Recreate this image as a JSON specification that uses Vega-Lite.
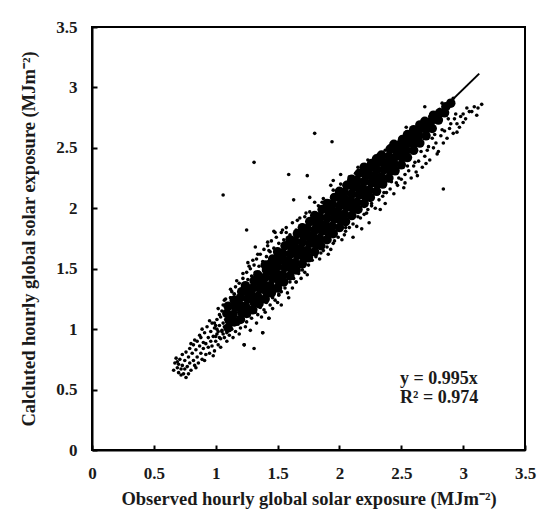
{
  "$schema": "https://vega.github.io/schema/vega-lite/v6.json",
  "width": 433,
  "height": 423,
  "autosize": {"type": "none"},
  "padding": {"left": 92, "top": 27, "right": 25, "bottom": 81},
  "background": "white",
  "config": {
    "font": "Liberation Serif",
    "view": {"stroke": "black", "strokeWidth": 2},
    "axis": {
      "grid": false,
      "domainColor": "black",
      "domainWidth": 2,
      "tickColor": "black",
      "tickWidth": 2,
      "tickSize": -5,
      "labelFont": "Liberation Serif",
      "labelFontSize": 17,
      "labelFontWeight": "bold",
      "labelColor": "#1a1a1a",
      "labelFlush": false,
      "titleFont": "Liberation Serif",
      "titleFontSize": 18.5,
      "titleFontWeight": "bold",
      "titleColor": "#1a1a1a"
    }
  },
  "datasets": {
    "core": [
      {"obs":1.10,"calc":1.01},{"obs":1.11,"calc":1.07},{"obs":1.09,"calc":1.13},{"obs":1.10,"calc":1.19},
      {"obs":1.15,"calc":1.06},{"obs":1.14,"calc":1.12},{"obs":1.16,"calc":1.18},{"obs":1.15,"calc":1.24},
      {"obs":1.20,"calc":1.08},{"obs":1.21,"calc":1.14},{"obs":1.19,"calc":1.20},{"obs":1.20,"calc":1.26},{"obs":1.21,"calc":1.31},
      {"obs":1.25,"calc":1.13},{"obs":1.24,"calc":1.19},{"obs":1.26,"calc":1.25},{"obs":1.25,"calc":1.31},{"obs":1.24,"calc":1.36},
      {"obs":1.30,"calc":1.16},{"obs":1.31,"calc":1.22},{"obs":1.29,"calc":1.28},{"obs":1.30,"calc":1.34},{"obs":1.31,"calc":1.40},
      {"obs":1.35,"calc":1.21},{"obs":1.34,"calc":1.27},{"obs":1.36,"calc":1.33},{"obs":1.35,"calc":1.39},{"obs":1.34,"calc":1.45},
      {"obs":1.40,"calc":1.25},{"obs":1.41,"calc":1.31},{"obs":1.39,"calc":1.37},{"obs":1.40,"calc":1.43},{"obs":1.41,"calc":1.49},{"obs":1.40,"calc":1.53},
      {"obs":1.45,"calc":1.30},{"obs":1.44,"calc":1.36},{"obs":1.46,"calc":1.42},{"obs":1.45,"calc":1.48},{"obs":1.44,"calc":1.54},{"obs":1.46,"calc":1.58},
      {"obs":1.50,"calc":1.34},{"obs":1.51,"calc":1.40},{"obs":1.49,"calc":1.46},{"obs":1.50,"calc":1.52},{"obs":1.51,"calc":1.58},{"obs":1.50,"calc":1.64},
      {"obs":1.55,"calc":1.39},{"obs":1.54,"calc":1.45},{"obs":1.56,"calc":1.51},{"obs":1.55,"calc":1.57},{"obs":1.54,"calc":1.63},{"obs":1.56,"calc":1.69},
      {"obs":1.60,"calc":1.44},{"obs":1.61,"calc":1.50},{"obs":1.59,"calc":1.56},{"obs":1.60,"calc":1.62},{"obs":1.61,"calc":1.68},{"obs":1.60,"calc":1.74},
      {"obs":1.65,"calc":1.49},{"obs":1.64,"calc":1.55},{"obs":1.66,"calc":1.61},{"obs":1.65,"calc":1.67},{"obs":1.64,"calc":1.73},{"obs":1.66,"calc":1.79},
      {"obs":1.70,"calc":1.54},{"obs":1.71,"calc":1.60},{"obs":1.69,"calc":1.66},{"obs":1.70,"calc":1.72},{"obs":1.71,"calc":1.78},{"obs":1.70,"calc":1.84},
      {"obs":1.75,"calc":1.59},{"obs":1.74,"calc":1.65},{"obs":1.76,"calc":1.71},{"obs":1.75,"calc":1.77},{"obs":1.74,"calc":1.83},{"obs":1.76,"calc":1.89},
      {"obs":1.80,"calc":1.64},{"obs":1.81,"calc":1.70},{"obs":1.79,"calc":1.76},{"obs":1.80,"calc":1.82},{"obs":1.81,"calc":1.88},{"obs":1.80,"calc":1.94},
      {"obs":1.85,"calc":1.69},{"obs":1.84,"calc":1.75},{"obs":1.86,"calc":1.81},{"obs":1.85,"calc":1.87},{"obs":1.84,"calc":1.93},{"obs":1.86,"calc":1.99},
      {"obs":1.90,"calc":1.74},{"obs":1.91,"calc":1.80},{"obs":1.89,"calc":1.86},{"obs":1.90,"calc":1.92},{"obs":1.91,"calc":1.98},{"obs":1.90,"calc":2.04},
      {"obs":1.95,"calc":1.79},{"obs":1.94,"calc":1.85},{"obs":1.96,"calc":1.91},{"obs":1.95,"calc":1.97},{"obs":1.94,"calc":2.03},{"obs":1.96,"calc":2.09},
      {"obs":2.00,"calc":1.84},{"obs":2.01,"calc":1.90},{"obs":1.99,"calc":1.96},{"obs":2.00,"calc":2.02},{"obs":2.01,"calc":2.08},{"obs":2.00,"calc":2.14},
      {"obs":2.05,"calc":1.89},{"obs":2.04,"calc":1.95},{"obs":2.06,"calc":2.01},{"obs":2.05,"calc":2.07},{"obs":2.04,"calc":2.13},{"obs":2.06,"calc":2.19},
      {"obs":2.10,"calc":1.94},{"obs":2.11,"calc":2.00},{"obs":2.09,"calc":2.06},{"obs":2.10,"calc":2.12},{"obs":2.11,"calc":2.18},{"obs":2.10,"calc":2.24},
      {"obs":2.15,"calc":1.99},{"obs":2.14,"calc":2.05},{"obs":2.16,"calc":2.11},{"obs":2.15,"calc":2.17},{"obs":2.14,"calc":2.23},{"obs":2.16,"calc":2.29},
      {"obs":2.20,"calc":2.04},{"obs":2.21,"calc":2.10},{"obs":2.19,"calc":2.16},{"obs":2.20,"calc":2.22},{"obs":2.21,"calc":2.28},{"obs":2.20,"calc":2.34},
      {"obs":2.25,"calc":2.09},{"obs":2.24,"calc":2.15},{"obs":2.26,"calc":2.21},{"obs":2.25,"calc":2.27},{"obs":2.24,"calc":2.33},{"obs":2.26,"calc":2.37},
      {"obs":2.30,"calc":2.14},{"obs":2.31,"calc":2.20},{"obs":2.29,"calc":2.26},{"obs":2.30,"calc":2.32},{"obs":2.31,"calc":2.38},{"obs":2.30,"calc":2.41},
      {"obs":2.35,"calc":2.20},{"obs":2.34,"calc":2.26},{"obs":2.36,"calc":2.32},{"obs":2.35,"calc":2.38},{"obs":2.34,"calc":2.44},
      {"obs":2.40,"calc":2.25},{"obs":2.41,"calc":2.31},{"obs":2.39,"calc":2.37},{"obs":2.40,"calc":2.43},{"obs":2.41,"calc":2.49},
      {"obs":2.45,"calc":2.31},{"obs":2.44,"calc":2.37},{"obs":2.46,"calc":2.43},{"obs":2.45,"calc":2.49},{"obs":2.44,"calc":2.53},
      {"obs":2.50,"calc":2.36},{"obs":2.51,"calc":2.42},{"obs":2.49,"calc":2.48},{"obs":2.50,"calc":2.54},{"obs":2.51,"calc":2.57},
      {"obs":2.55,"calc":2.42},{"obs":2.54,"calc":2.48},{"obs":2.56,"calc":2.54},{"obs":2.55,"calc":2.61},
      {"obs":2.60,"calc":2.48},{"obs":2.61,"calc":2.54},{"obs":2.59,"calc":2.60},{"obs":2.60,"calc":2.65},
      {"obs":2.65,"calc":2.54},{"obs":2.64,"calc":2.60},{"obs":2.66,"calc":2.66},{"obs":2.65,"calc":2.69},
      {"obs":2.70,"calc":2.60},{"obs":2.71,"calc":2.66},{"obs":2.69,"calc":2.72},
      {"obs":2.75,"calc":2.66},{"obs":2.74,"calc":2.72},{"obs":2.76,"calc":2.77},
      {"obs":2.80,"calc":2.73},{"obs":2.81,"calc":2.79},
      {"obs":2.85,"calc":2.79},{"obs":2.86,"calc":2.84},
      {"obs":2.90,"calc":2.87}
    ],
    "sparse": [
      {"obs":0.66,"calc":0.66},{"obs":0.67,"calc":0.72},{"obs":0.68,"calc":0.76},{"obs":0.69,"calc":0.68},{"obs":0.70,"calc":0.64},
      {"obs":0.70,"calc":0.71},{"obs":0.71,"calc":0.75},{"obs":0.72,"calc":0.67},{"obs":0.73,"calc":0.79},{"obs":0.73,"calc":0.70},
      {"obs":0.74,"calc":0.63},{"obs":0.75,"calc":0.74},{"obs":0.76,"calc":0.60},{"obs":0.76,"calc":0.81},{"obs":0.77,"calc":0.69},
      {"obs":0.78,"calc":0.77},{"obs":0.79,"calc":0.72},{"obs":0.79,"calc":0.84},{"obs":0.80,"calc":0.66},{"obs":0.81,"calc":0.80},
      {"obs":0.82,"calc":0.74},{"obs":0.82,"calc":0.87},{"obs":0.83,"calc":0.70},{"obs":0.84,"calc":0.83},{"obs":0.85,"calc":0.77},
      {"obs":0.85,"calc":0.90},{"obs":0.86,"calc":0.72},{"obs":0.87,"calc":0.86},{"obs":0.88,"calc":0.80},{"obs":0.88,"calc":0.93},
      {"obs":0.89,"calc":0.75},{"obs":0.90,"calc":0.89},{"obs":0.90,"calc":0.84},{"obs":0.91,"calc":0.97},{"obs":0.92,"calc":0.79},
      {"obs":0.92,"calc":0.88},{"obs":0.93,"calc":1.02},{"obs":0.94,"calc":0.85},{"obs":0.94,"calc":0.93},{"obs":0.95,"calc":0.80},
      {"obs":0.96,"calc":0.98},{"obs":0.96,"calc":0.90},{"obs":0.97,"calc":1.05},{"obs":0.97,"calc":0.86},{"obs":0.98,"calc":0.94},
      {"obs":0.99,"calc":1.01},{"obs":0.99,"calc":0.82},{"obs":1.00,"calc":0.90},{"obs":1.01,"calc":1.08},{"obs":1.01,"calc":0.96},
      {"obs":1.02,"calc":0.87},{"obs":1.03,"calc":1.03},{"obs":1.03,"calc":1.12},{"obs":1.04,"calc":0.92},{"obs":1.05,"calc":0.98},
      {"obs":1.05,"calc":1.15},{"obs":0.78,"calc":0.63},{"obs":0.84,"calc":0.68},{"obs":0.91,"calc":0.74},{"obs":0.87,"calc":0.95},
      {"obs":0.80,"calc":0.88},{"obs":0.75,"calc":0.67},{"obs":0.72,"calc":0.62},{"obs":0.69,"calc":0.73},{"obs":0.83,"calc":0.91},
      {"obs":0.98,"calc":0.78},{"obs":0.95,"calc":1.07},{"obs":0.89,"calc":1.00},
      {"obs":1.00,"calc":0.94},{"obs":1.01,"calc":1.00},{"obs":0.99,"calc":1.05},{"obs":1.05,"calc":0.99},{"obs":1.06,"calc":1.05},
      {"obs":1.04,"calc":1.10},{"obs":1.02,"calc":0.98},{"obs":1.03,"calc":0.93},{"obs":1.07,"calc":1.02},{"obs":1.06,"calc":0.96},
      {"obs":1.08,"calc":1.08},{"obs":1.00,"calc":1.03},
      {"obs":1.02,"calc":1.17},{"obs":1.04,"calc":0.85},{"obs":1.07,"calc":1.24},{"obs":1.09,"calc":0.90},{"obs":1.12,"calc":1.33},
      {"obs":1.14,"calc":0.93},{"obs":1.17,"calc":1.40},{"obs":1.19,"calc":0.96},{"obs":1.22,"calc":1.46},{"obs":1.24,"calc":1.02},
      {"obs":1.27,"calc":1.52},{"obs":1.28,"calc":0.99},{"obs":1.30,"calc":1.57},{"obs":1.33,"calc":1.05},{"obs":1.34,"calc":1.62},
      {"obs":1.37,"calc":1.10},{"obs":1.40,"calc":1.14},{"obs":1.42,"calc":1.72},{"obs":1.46,"calc":1.17},{"obs":1.48,"calc":1.80},
      {"obs":1.50,"calc":1.22},{"obs":1.53,"calc":1.20},{"obs":1.58,"calc":1.30},{"obs":1.62,"calc":1.34},{"obs":1.66,"calc":1.90},
      {"obs":1.69,"calc":1.42},{"obs":1.72,"calc":1.93},{"obs":1.74,"calc":1.45},
      {"obs":1.06,"calc":1.20},{"obs":1.08,"calc":1.25},{"obs":1.10,"calc":1.17},{"obs":1.12,"calc":1.26},{"obs":1.13,"calc":1.31},
      {"obs":1.15,"calc":1.29},{"obs":1.16,"calc":1.35},{"obs":1.18,"calc":1.24},{"obs":1.19,"calc":1.38},{"obs":1.21,"calc":1.33},
      {"obs":1.22,"calc":1.42},{"obs":1.24,"calc":1.37},{"obs":1.25,"calc":1.47},{"obs":1.26,"calc":1.41},{"obs":1.28,"calc":1.50},
      {"obs":1.29,"calc":1.44},{"obs":1.31,"calc":1.53},{"obs":1.32,"calc":1.47},{"obs":1.33,"calc":1.58},{"obs":1.35,"calc":1.52},
      {"obs":1.36,"calc":1.62},{"obs":1.38,"calc":1.56},{"obs":1.39,"calc":1.66},{"obs":1.41,"calc":1.60},{"obs":1.42,"calc":1.69},
      {"obs":1.44,"calc":1.64},{"obs":1.45,"calc":1.73},{"obs":1.47,"calc":1.67},{"obs":1.49,"calc":1.76},{"obs":1.51,"calc":1.71},
      {"obs":1.53,"calc":1.80},{"obs":1.55,"calc":1.74},{"obs":1.57,"calc":1.84},{"obs":1.60,"calc":1.78},{"obs":1.62,"calc":1.88},
      {"obs":1.65,"calc":1.82},{"obs":1.68,"calc":1.92},{"obs":1.70,"calc":1.86},{"obs":1.73,"calc":1.96},
      {"obs":1.07,"calc":0.93},{"obs":1.09,"calc":0.97},{"obs":1.11,"calc":0.95},{"obs":1.13,"calc":1.00},{"obs":1.16,"calc":0.98},
      {"obs":1.18,"calc":1.04},{"obs":1.20,"calc":1.01},{"obs":1.23,"calc":0.87},{"obs":1.22,"calc":1.07},{"obs":1.25,"calc":1.06},
      {"obs":1.27,"calc":1.11},{"obs":1.29,"calc":1.09},{"obs":1.31,"calc":0.84},{"obs":1.32,"calc":1.14},{"obs":1.34,"calc":1.12},
      {"obs":1.36,"calc":1.18},{"obs":1.38,"calc":0.97},{"obs":1.39,"calc":1.16},{"obs":1.41,"calc":1.22},{"obs":1.43,"calc":1.09},
      {"obs":1.44,"calc":1.20},{"obs":1.46,"calc":1.26},{"obs":1.48,"calc":1.24},{"obs":1.51,"calc":1.28},{"obs":1.53,"calc":1.31},
      {"obs":1.56,"calc":1.34},{"obs":1.59,"calc":1.26},{"obs":1.60,"calc":1.39},{"obs":1.63,"calc":1.42},{"obs":1.65,"calc":1.39},
      {"obs":1.67,"calc":1.46},{"obs":1.70,"calc":1.49},{"obs":1.72,"calc":1.47},{"obs":1.75,"calc":1.53},
      {"obs":1.76,"calc":1.97},{"obs":1.78,"calc":1.94},{"obs":1.83,"calc":2.02},{"obs":1.86,"calc":2.05},{"obs":1.87,"calc":2.08},
      {"obs":1.92,"calc":2.06},{"obs":1.95,"calc":2.15},{"obs":1.98,"calc":2.09},{"obs":2.01,"calc":2.20},{"obs":2.02,"calc":2.14},
      {"obs":2.07,"calc":2.22},{"obs":2.08,"calc":2.26},{"obs":2.13,"calc":2.29},{"obs":2.14,"calc":2.24},{"obs":2.19,"calc":2.36},
      {"obs":2.22,"calc":2.30},{"obs":2.23,"calc":2.40},{"obs":2.28,"calc":2.35},{"obs":2.31,"calc":2.44},{"obs":2.32,"calc":2.37},
      {"obs":2.37,"calc":2.48},{"obs":2.40,"calc":2.42},{"obs":2.41,"calc":2.52},{"obs":2.46,"calc":2.47},{"obs":2.49,"calc":2.56},
      {"obs":2.51,"calc":2.53},{"obs":2.57,"calc":2.62},{"obs":2.59,"calc":2.60},{"obs":2.65,"calc":2.67},{"obs":2.67,"calc":2.71},
      {"obs":2.73,"calc":2.76},{"obs":2.75,"calc":2.78},{"obs":2.81,"calc":2.82},{"obs":2.83,"calc":2.87},{"obs":2.89,"calc":2.89},
      {"obs":2.92,"calc":2.91},
      {"obs":1.78,"calc":1.57},{"obs":1.81,"calc":1.60},{"obs":1.84,"calc":1.58},{"obs":1.87,"calc":1.65},{"obs":1.90,"calc":1.68},
      {"obs":1.93,"calc":1.66},{"obs":1.96,"calc":1.73},{"obs":1.99,"calc":1.76},{"obs":2.02,"calc":1.74},{"obs":2.04,"calc":1.78},
      {"obs":2.05,"calc":1.81},{"obs":2.08,"calc":1.84},{"obs":2.11,"calc":1.76},{"obs":2.11,"calc":1.87},{"obs":2.14,"calc":1.85},
      {"obs":2.17,"calc":1.92},{"obs":2.20,"calc":1.95},{"obs":2.22,"calc":1.96},{"obs":2.24,"calc":1.88},{"obs":2.23,"calc":1.99},
      {"obs":2.26,"calc":2.02},{"obs":2.29,"calc":2.00},{"obs":2.32,"calc":2.07},{"obs":2.35,"calc":2.10},{"obs":2.37,"calc":2.04},
      {"obs":2.38,"calc":2.13},{"obs":2.41,"calc":2.16},{"obs":2.44,"calc":2.12},{"obs":2.46,"calc":2.21},{"obs":2.47,"calc":2.19},
      {"obs":2.50,"calc":2.24},{"obs":2.53,"calc":2.21},{"obs":2.53,"calc":2.28},{"obs":2.56,"calc":2.31},{"obs":2.58,"calc":2.25},
      {"obs":2.60,"calc":2.35},{"obs":2.62,"calc":2.30},{"obs":2.64,"calc":2.39},{"obs":2.67,"calc":2.34},{"obs":2.69,"calc":2.43},
      {"obs":2.71,"calc":2.48},{"obs":2.73,"calc":2.40},{"obs":2.75,"calc":2.58},{"obs":2.76,"calc":2.50},{"obs":2.78,"calc":2.54},
      {"obs":2.80,"calc":2.47},{"obs":2.82,"calc":2.60},{"obs":2.84,"calc":2.54},{"obs":2.85,"calc":2.64},{"obs":2.87,"calc":2.58},
      {"obs":2.89,"calc":2.66},{"obs":2.90,"calc":2.70},{"obs":2.92,"calc":2.62},{"obs":2.93,"calc":2.74},{"obs":2.95,"calc":2.70},
      {"obs":2.97,"calc":2.67},{"obs":2.98,"calc":2.76},{"obs":3.00,"calc":2.71},{"obs":3.00,"calc":2.78},{"obs":3.02,"calc":2.74},
      {"obs":3.03,"calc":2.83},{"obs":3.05,"calc":2.80},{"obs":3.07,"calc":2.80},{"obs":3.09,"calc":2.84},{"obs":3.11,"calc":2.77},
      {"obs":3.12,"calc":2.83},{"obs":3.15,"calc":2.86},{"obs":2.84,"calc":2.16},
      {"obs":2.26,"calc":2.04},{"obs":2.31,"calc":2.12},{"obs":2.36,"calc":2.13},{"obs":2.42,"calc":2.22},{"obs":2.48,"calc":2.25},
      {"obs":2.55,"calc":2.35},{"obs":2.61,"calc":2.38},{"obs":2.66,"calc":2.47},{"obs":2.72,"calc":2.51},{"obs":2.77,"calc":2.61},
      {"obs":2.83,"calc":2.65},{"obs":2.88,"calc":2.74},{"obs":2.94,"calc":2.78},{"obs":1.85,"calc":1.63},{"obs":1.95,"calc":1.71},
      {"obs":2.15,"calc":1.93},{"obs":2.05,"calc":1.84},{"obs":1.91,"calc":1.62},{"obs":2.18,"calc":1.83},{"obs":2.33,"calc":1.99},
      {"obs":2.52,"calc":2.17},{"obs":2.63,"calc":2.27},{"obs":2.70,"calc":2.37},{"obs":2.79,"calc":2.45},{"obs":2.95,"calc":2.63},
      {"obs":1.06,"calc":2.11},{"obs":1.31,"calc":2.38},{"obs":1.25,"calc":1.82},{"obs":1.47,"calc":1.81},{"obs":1.32,"calc":1.68},
      {"obs":1.43,"calc":1.65},{"obs":1.26,"calc":1.55},{"obs":1.80,"calc":2.62},{"obs":1.94,"calc":2.55},{"obs":1.59,"calc":2.28},
      {"obs":1.74,"calc":2.27},{"obs":1.63,"calc":2.07},{"obs":1.76,"calc":2.09},{"obs":1.80,"calc":2.05},{"obs":1.54,"calc":1.82},
      {"obs":1.57,"calc":1.80},{"obs":1.95,"calc":2.23},{"obs":2.01,"calc":2.28},{"obs":2.15,"calc":2.34},{"obs":1.93,"calc":2.19},
      {"obs":2.54,"calc":2.67},{"obs":2.69,"calc":2.84},{"obs":1.65,"calc":1.39},{"obs":1.51,"calc":1.29},{"obs":1.38,"calc":0.97},
      {"obs":1.23,"calc":0.87},{"obs":1.43,"calc":1.09},{"obs":1.12,"calc":1.26},{"obs":1.15,"calc":1.29}
    ],
    "fit": [
      {"obs":2.00,"calc":1.99},
      {"obs":3.13,"calc":3.114}
    ],
    "notes": [
      {"obs":2.49,"calc":0.587,"label":"y = 0.995x"},
      {"obs":2.49,"calc":0.43,"label":"R² = 0.974"}
    ]
  },
  "encoding": {
    "x": {
      "field": "obs",
      "type": "quantitative",
      "scale": {"domain": [0, 3.5], "nice": false},
      "axis": {
        "values": [0, 0.5, 1, 1.5, 2, 2.5, 3, 3.5],
        "format": "~g",
        "labelPadding": 20,
        "title": "Observed hourly global solar exposure (MJm⁻²)",
        "titleX": 216.5,
        "titleY": 48,
        "titleBaseline": "middle",
        "titleAlign": "center"
      }
    },
    "y": {
      "field": "calc",
      "type": "quantitative",
      "scale": {"domain": [0, 3.5], "nice": false},
      "axis": {
        "values": [0, 0.5, 1, 1.5, 2, 2.5, 3, 3.5],
        "format": "~g",
        "labelPadding": 20,
        "title": "Calcluted hourly global solar exposure (MJm⁻²)",
        "titleX": -64,
        "titleY": 211.5,
        "titleAngle": -90,
        "titleBaseline": "middle",
        "titleAlign": "center"
      }
    }
  },
  "layer": [
    {
      "data": {"name": "core"},
      "mark": {"type": "circle", "size": 90, "color": "black", "opacity": 1}
    },
    {
      "data": {"name": "sparse"},
      "mark": {"type": "circle", "size": 13, "color": "black", "opacity": 1}
    },
    {
      "data": {"name": "fit"},
      "mark": {"type": "line", "color": "black", "strokeWidth": 2},
      "encoding": {}
    },
    {
      "data": {"name": "notes"},
      "mark": {"type": "text", "align": "left", "baseline": "middle", "font": "Liberation Serif", "fontSize": 18, "fontWeight": "bold", "color": "#1a1a1a"},
      "encoding": {"text": {"field": "label"}}
    }
  ]
}
